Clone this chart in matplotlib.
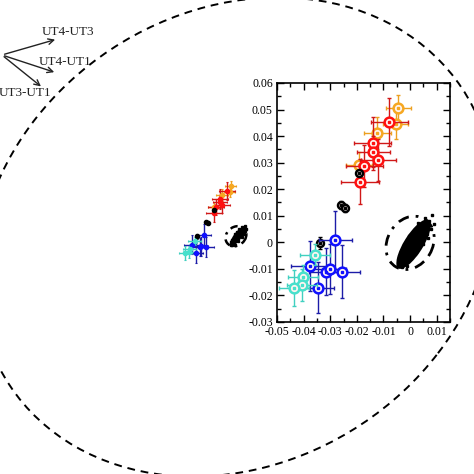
import numpy as np
import matplotlib
matplotlib.use('Agg')
import matplotlib.pyplot as plt
from matplotlib.patches import Ellipse
from matplotlib.ticker import MultipleLocator, FuncFormatter

plt.rcParams['font.family'] = ['Liberation Serif', 'DejaVu Serif']
plt.rcParams['axes.unicode_minus'] = False

# closure phase groups (x, y, xerr, yerr)
orange_x = [-0.0044, -0.0053, -0.0123, -0.0192]
orange_y = [0.0505, 0.0444, 0.0411, 0.0292]
orange_xe = [0.0047, 0.0047, 0.0050, 0.0050]
orange_ye = [0.0050, 0.0055, 0.0060, 0.0050]

red_x = [-0.0078, -0.0140, -0.0138, -0.0119, -0.0172, -0.0188]
red_y = [0.0454, 0.0373, 0.0342, 0.0310, 0.0288, 0.0229]
red_xe = [0.0069, 0.0069, 0.0063, 0.0066, 0.0070, 0.0070]
red_ye = [0.0090, 0.0100, 0.0060, 0.0078, 0.0078, 0.0085]

black_x = [-0.0191, -0.0258, -0.0245, -0.0337]
black_y = [0.0262, 0.0140, 0.0131, -0.0003]
black_xe = [0.0010, 0.0012, 0.0012, 0.0010]
black_ye = [0.0012, 0.0015, 0.0015, 0.0022]

blue_x = [-0.0281, -0.0377, -0.0315, -0.0302, -0.0256, -0.0347]
blue_y = [0.0009, -0.0088, -0.0110, -0.0100, -0.0110, -0.0171]
blue_xe = [0.0063, 0.0069, 0.0063, 0.0063, 0.0069, 0.0063]
blue_ye = [0.0110, 0.0094, 0.0090, 0.0095, 0.0100, 0.0097]

cyan_x = [-0.0356, -0.0402, -0.0406, -0.0437]
cyan_y = [-0.0047, -0.0129, -0.0160, -0.0171]
cyan_xe = [0.0056, 0.0056, 0.0056, 0.0056]
cyan_ye = [0.0040, 0.0045, 0.0060, 0.0068]

# calibrator scatter: dense core + stray points
blob_center = (0.0013, -0.0007)
blob_len, blob_wid, blob_ang = 0.0215, 0.0072, 58
blob_x = [0.0082, 0.0072, 0.0060, 0.0078, 0.0065, 0.0035, -0.0012, -0.0030,
          -0.0045, -0.0030, -0.0010, 0.0020, 0.0045, 0.0050, -0.0005, 0.0028,
          0.0088, 0.0055, -0.0040, -0.0022, 0.0012, 0.0068]
blob_y = [0.0103, 0.0080, 0.0075, 0.0050, 0.0030, 0.0062, -0.0020, -0.0040,
          -0.0085, -0.0093, -0.0090, -0.0045, 0.0010, -0.0005, 0.0022, 0.0072,
          0.0068, 0.0090, -0.0060, -0.0070, 0.0040, 0.0018]

# error ellipses
small_ell = dict(xy=(0.0, -0.0002), width=0.021, height=0.017, angle=60)
big_ell = dict(xy=(0.0, -0.001), width=0.503, height=0.420, angle=56.4)

groups = [
    (orange_x, orange_y, orange_xe, orange_ye, '#f6a821', '#eca020', 7),
    (red_x, red_y, red_xe, red_ye, '#ff1010', '#d01818', 7),
    (black_x, black_y, black_xe, black_ye, 'black', 'black', 5),
    (blue_x, blue_y, blue_xe, blue_ye, '#1010ff', '#1c1ca8', 7),
    (cyan_x, cyan_y, cyan_xe, cyan_ye, '#48e0cc', '#40d0c0', 7),
]

fig = plt.figure(figsize=(4.74, 4.74), dpi=100)

# main (zoomed out) panel
ax = fig.add_axes([0, 0, 1, 1])
ax.set_xlim(-0.2043, 0.2061)
ax.set_ylim(-0.238, 0.236)
ax.axis('off')
ax.add_patch(Ellipse(fill=False, ls=(0, (4, 3)), lw=1.4, color='black', **big_ell))
ax.add_patch(Ellipse(fill=False, ls=(0, (3, 2, 1, 2)), lw=1.8, color='black', **small_ell))
ax.add_patch(Ellipse(blob_center, blob_len, blob_wid, angle=blob_ang, color='black', lw=0))
ax.plot(blob_x, blob_y, 's', color='black', ms=1.5)
for gx, gy, gxe, gye, mc, ec, ms in groups:
    ax.errorbar(gx, gy, xerr=gxe, yerr=gye, fmt='o', ms=3, color=mc, ecolor=ec,
                elinewidth=1.0, capsize=1, capthick=0.8)

# baseline arrows
origin = (0.004, 0.884)
arrows = [('UT4-UT3', (0.122, 0.918), (0.144, 0.932)),
          ('UT4-UT1', (0.120, 0.846), (0.138, 0.869)),
          ('UT3-UT1', (0.091, 0.814), (0.053, 0.804))]
for lab, tip, tpos in arrows:
    ax.annotate('', xy=tip, xytext=origin, xycoords='figure fraction',
                textcoords='figure fraction',
                arrowprops=dict(arrowstyle='->', lw=1.0, color='#222222'))
    fig.text(tpos[0], tpos[1], lab, fontsize=9.5, ha='center', va='center', color='#222222')

# inset
axi = fig.add_axes([0.5844, 0.3207, 0.365, 0.5042])
axi.set_xlim(-0.05, 0.015)
axi.set_ylim(-0.03, 0.06)
axi.add_patch(Ellipse(fill=False, ls=(0, (4, 2.5, 1, 2.5)), lw=2.0, color='black', **small_ell))
axi.add_patch(Ellipse(blob_center, blob_len, blob_wid, angle=blob_ang, color='black', lw=0))
axi.plot(blob_x, blob_y, 's', color='black', ms=2)
for gx, gy, gxe, gye, mc, ec, ms in groups:
    axi.errorbar(gx, gy, xerr=gxe, yerr=gye, fmt='none', ecolor=ec,
                 elinewidth=1.0, capsize=1.5, capthick=1.0)
    axi.plot(gx, gy, 'o', ms=ms, mfc='#fff4f0', mec=mc, mew=1.8)
    axi.plot(gx, gy, 's', ms=1.6, color=mc)

axi.xaxis.set_major_locator(MultipleLocator(0.01))
axi.xaxis.set_minor_locator(MultipleLocator(0.005))
axi.yaxis.set_major_locator(MultipleLocator(0.01))
axi.yaxis.set_minor_locator(MultipleLocator(0.005))
fmt = FuncFormatter(lambda v, p: '%g' % (round(v, 3) + 0.0))
axi.xaxis.set_major_formatter(fmt)
axi.yaxis.set_major_formatter(fmt)
axi.tick_params(which='both', direction='in', top=True, right=True, labelsize=8.5, pad=3)
axi.tick_params(which='major', length=5, width=1)
axi.tick_params(which='minor', length=3, width=1)
for s in axi.spines.values():
    s.set_linewidth(1.2)

plt.savefig('out.png', dpi=100)
